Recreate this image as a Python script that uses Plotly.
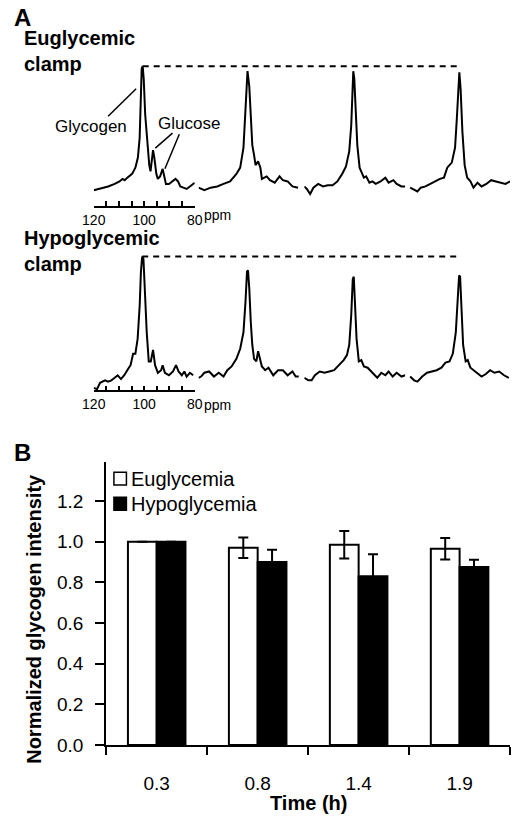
import plotly.graph_objects as go

# ---------------- panel A: spectra (ppm, intensity relative to first glycogen peak)
eu1_ppm = [120, 118.1, 116.2, 114.3, 111.7, 109.8, 108.6, 107.7, 106.7, 104.8, 103.5, 102.5, 101.8, 101.3,
           101.0, 100.6, 100.2, 99.6, 98.8, 98.0, 97.5, 97.0, 96.5, 96.0, 95.2, 94.6, 93.7, 92.7, 92.2,
           91.4, 90.2, 88.9, 87.6, 86.6, 85.7, 84.5, 83.2, 81.9, 80.6, 80]
eu1_int = [0.01, 0.02, 0.03, 0.04, 0.06, 0.08, 0.10, 0.09, 0.11, 0.14, 0.19, 0.27, 0.43, 0.74,
           0.98, 1.0, 0.90, 0.61, 0.37, 0.21, 0.16, 0.24, 0.33, 0.27, 0.14, 0.10, 0.12, 0.18, 0.14,
           0.06, 0.06, 0.08, 0.10, 0.08, 0.04, 0.03, 0.02, 0.04, 0.06, 0.07]

eu2_ppm = [120, 117.7, 115.2, 112.6, 110.1, 107.5, 105.0, 103.5, 102.2, 101.2, 100.6, 99.9, 99.3, 98.7,
           98.0, 97.4, 96.4, 95.5, 94.9, 93.0, 91.7, 89.8, 87.9, 86.6, 84.7, 82.8, 80.6]
eu2_int = [0.03, 0.01, 0.03, 0.04, 0.06, 0.08, 0.14, 0.19, 0.35, 0.74, 0.96, 0.84, 0.53, 0.37,
           0.29, 0.21, 0.24, 0.19, 0.10, 0.12, 0.09, 0.07, 0.12, 0.09, 0.08, 0.04, 0.03]

eu3_ppm = [120, 119.0, 117.7, 116.4, 114.5, 112.6, 110.7, 108.8, 106.9, 105.0, 103.5, 102.2, 101.4, 100.9,
           100.6, 100.2, 99.7, 99.0, 98.1, 97.1, 96.4, 95.5, 94.2, 93.0, 91.7, 89.8, 87.9, 86.6,
           84.7, 83.4, 81.5, 80]
eu3_int = [0.04, 0.02, -0.02, 0.03, 0.06, 0.04, 0.05, 0.05, 0.08, 0.14, 0.20, 0.32, 0.53, 0.79,
           0.96, 0.90, 0.61, 0.37, 0.19, 0.15, 0.11, 0.12, 0.07, 0.08, 0.06, 0.08, 0.11, 0.07,
           0.09, 0.06, 0.04, 0.04]

eu4_ppm = [119.6, 118.0, 116.7, 115.4, 113.5, 111.6, 109.7, 107.8, 106.2, 104.9, 103.1, 101.8, 101.1,
           100.5, 100.1, 99.6, 98.9, 98.0, 97.0, 95.7, 94.5, 92.9, 91.3, 89.4, 87.5, 85.6, 83.7, 81.8, 80]
eu4_int = [0.03, 0.01, 0.00, 0.03, 0.04, 0.06, 0.08, 0.10, 0.11, 0.19, 0.23, 0.35, 0.58,
           0.87, 0.95, 0.82, 0.48, 0.21, 0.11, 0.08, 0.03, 0.07, 0.04, 0.06, 0.09, 0.08, 0.07, 0.06, 0.08]

hy1_ppm = [120, 118.7, 117.5, 115.5, 114.3, 113.0, 111.7, 110.5, 109.2, 107.9, 106.7, 105.4, 104.4,
           103.5, 102.6, 101.8, 101.3, 100.8, 100.3, 99.8, 99.0, 98.2, 97.4, 96.5, 95.7, 94.6, 93.3,
           92.7, 91.8, 90.2, 88.6, 87.4, 86.4, 85.1, 84.1, 83.2, 81.9, 80.6]
hy1_int = [-0.04, -0.05, 0.00, 0.02, 0.01, 0.02, 0.04, 0.06, 0.03, 0.06, 0.10, 0.14, 0.23,
           0.23, 0.35, 0.61, 0.88, 1.0, 0.98, 0.75, 0.40, 0.17, 0.17, 0.26, 0.14, 0.08, 0.10,
           0.14, 0.08, 0.06, 0.09, 0.14, 0.09, 0.06, 0.09, 0.05, 0.08, 0.06]

hy2_ppm = [120, 119.0, 117.7, 115.8, 113.9, 112.0, 110.1, 108.6, 106.9, 105.0, 103.5, 102.2, 101.4,
           100.8, 100.4, 99.9, 99.3, 98.7, 98.0, 97.1, 96.4, 95.5, 94.9, 93.6, 92.3, 90.4, 88.5,
           86.6, 84.7, 82.8, 81.5, 80.3]
hy2_int = [0.04, 0.05, 0.08, 0.09, 0.05, 0.08, 0.05, 0.10, 0.13, 0.19, 0.27, 0.40, 0.64,
           0.88, 0.89, 0.75, 0.48, 0.30, 0.19, 0.17, 0.25, 0.19, 0.13, 0.10, 0.12, 0.06, 0.10,
           0.10, 0.06, 0.09, 0.05, 0.05]

hy3_ppm = [120, 118.4, 117.1, 115.8, 113.9, 112.0, 110.1, 108.2, 106.3, 104.4, 103.1, 102.2, 101.4,
           100.8, 100.4, 99.9, 99.3, 98.4, 97.4, 96.4, 94.9, 93.0, 91.1, 89.5, 87.9, 86.6, 85.0,
           83.4, 81.5, 80]
hy3_int = [0.04, 0.02, 0.02, 0.06, 0.09, 0.08, 0.09, 0.10, 0.14, 0.18, 0.22, 0.30, 0.54,
           0.82, 0.84, 0.64, 0.35, 0.17, 0.18, 0.13, 0.12, 0.08, 0.04, 0.08, 0.06, 0.09, 0.05,
           0.08, 0.05, 0.06]

hy4_ppm = [119.6, 118.0, 116.7, 114.8, 112.9, 111.0, 109.1, 107.2, 105.6, 104.0, 102.7, 101.5, 100.8,
           100.2, 99.8, 99.3, 98.6, 97.6, 96.8, 95.7, 94.5, 92.9, 91.3, 89.6, 87.9, 86.2, 84.3,
           82.4, 80.5]
hy4_int = [0.05, 0.02, 0.01, 0.05, 0.08, 0.09, 0.10, 0.12, 0.16, 0.17, 0.23, 0.40, 0.67,
           0.85, 0.84, 0.61, 0.30, 0.17, 0.18, 0.12, 0.10, 0.08, 0.05, 0.07, 0.10, 0.08, 0.09,
           0.06, 0.04]

ppm_ticks = [120, 115, 110, 105, 100, 95, 90, 85, 80]
ppm_labels = ["120", "", "", "", "100", "", "", "", "80"]

# ---------------- panel B: bar chart
times = ["0.3", "0.8", "1.4", "1.9"]
eugly = [1.0, 0.97, 0.985, 0.965]
eugly_err = [0, 0.05, 0.068, 0.053]
hypo = [1.0, 0.90, 0.83, 0.875]
hypo_err = [0, 0.06, 0.108, 0.036]

W, H = 520, 828
FONT = "Arial, Liberation Sans, sans-serif"


def px(x):
    return x / W


def py(y):
    return 1 - y / H


# horizontal pixel slots of the four spectra in each row
slots = [(85, 190), (194, 299), (304, 409), (413, 518)]

fig = go.Figure()

rows = [
    ([(eu1_ppm, eu1_int), (eu2_ppm, eu2_int), (eu3_ppm, eu3_int), (eu4_ppm, eu4_int)], "y2", 2),
    ([(hy1_ppm, hy1_int), (hy2_ppm, hy2_int), (hy3_ppm, hy3_int), (hy4_ppm, hy4_int)], "y3", 6),
]
for spectra, yname, first in rows:
    for i, (ppm, inten) in enumerate(spectra):
        fig.add_trace(go.Scatter(
            x=ppm, y=inten, mode="lines",
            line=dict(color="black", width=2),
            xaxis="x%d" % (first + i), yaxis=yname,
            showlegend=False, hoverinfo="skip",
        ))

fig.add_trace(go.Bar(
    x=list(range(len(times))), y=eugly, name="Euglycemia", showlegend=False,
    marker=dict(color="white", line=dict(color="black", width=2)),
    error_y=dict(type="data", array=eugly_err, color="black", thickness=2, width=5),
))
fig.add_trace(go.Bar(
    x=list(range(len(times))), y=hypo, name="Hypoglycemia", showlegend=False,
    marker=dict(color="black", line=dict(color="black", width=2)),
    error_y=dict(type="data", array=hypo_err, color="black", thickness=2, width=5),
))

layout = dict(
    width=W, height=H,
    margin=dict(l=0, r=0, t=0, b=0),
    paper_bgcolor="white", plot_bgcolor="white",
    font=dict(family=FONT, color="black", size=19),
    barmode="group", bargap=0.43, bargroupgap=0,
    xaxis=dict(domain=[px(98), px(518)], range=[-0.5, 3.5], anchor="y",
               showline=True, linecolor="black", linewidth=2, showgrid=False, zeroline=False,
               tickvals=list(range(len(times))), ticktext=times, ticks="",
               ticklabelstandoff=20,
               minor=dict(tickvals=[-0.5, 0.5, 1.5, 2.5, 3.5], ticks="outside", ticklen=8,
                          tickwidth=2, tickcolor="black", showgrid=False)),
    yaxis=dict(domain=[py(755), py(468)], range=[0, 1.393], anchor="x",
               showline=True, linecolor="black", linewidth=2, showgrid=False, zeroline=False,
               tickvals=[0, 0.2, 0.4, 0.6, 0.8, 1.0, 1.2], tickformat=".1f",
               ticks="outside", ticklen=9, tickwidth=2, tickcolor="black",
               ticklabelstandoff=8),
    yaxis2=dict(domain=[py(209), py(64)], range=[-0.118, 1.024], anchor="x2", visible=False),
    yaxis3=dict(domain=[py(395.7), py(257)], range=[-0.06, 1.023], anchor="x6", visible=False),
)
for k in range(8):
    n = 2 + k
    lo, hi = slots[k % 4]
    ax = dict(domain=[px(lo), px(hi)], range=[120, 80], anchor="y2" if k < 4 else "y3",
              showgrid=False, zeroline=False)
    if k % 4 == 0:
        ax.update(showline=True, linecolor="black", linewidth=1.5,
                  tickvals=ppm_ticks, ticktext=ppm_labels, ticks="inside", ticklen=5,
                  tickwidth=1.5, tickcolor="black", tickfont=dict(size=14))
    else:
        ax.update(visible=False)
    layout["xaxis%d" % n] = ax
fig.update_layout(**layout)


def ppm_to_paper(ppm, slot):
    lo, hi = slots[slot]
    return px(lo + (120 - ppm) / 40 * (hi - lo))


# dashed reference lines at the height of the first glycogen peak
for spectra, yname, _ in rows:
    first_ppm, first_int = spectra[0]
    last_ppm, last_int = spectra[3]
    top = max(first_int)
    fig.add_shape(type="line", xref="paper", yref=yname,
                  x0=ppm_to_paper(first_ppm[first_int.index(top)], 0),
                  x1=ppm_to_paper(last_ppm[last_int.index(max(last_int))], 3),
                  y0=top, y1=top, line=dict(color="black", width=2, dash="6px,5px"))

# peak labels
for x0, y0, x1, y1 in [(114.3, 0.60, 103.2, 0.82), (88.8, 0.465, 95.6, 0.346), (86.1, 0.457, 91.8, 0.181)]:
    fig.add_shape(type="line", xref="x2", yref="y2", x0=x0, y0=y0, x1=x1, y1=y1,
                  line=dict(color="black", width=1.5))

bold = dict(family=FONT, size=20, weight="bold")
letter = dict(family=FONT, size=24, weight="bold")
notes = [
    dict(text="A", x=px(0), y=py(18), font=letter),
    dict(text="Euglycemic<br>clamp", x=px(10), y=py(52), font=bold),
    dict(text="Hypoglycemic<br>clamp", x=px(10), y=py(254), font=bold),
    dict(text="B", x=px(0), y=py(459), font=letter),
]
for a in notes:
    fig.add_annotation(xref="paper", yref="paper", xanchor="left", yanchor="middle",
                       align="left", showarrow=False, **a)

centred = dict(xref="paper", yref="paper", xanchor="center", yanchor="middle", showarrow=False)
fig.add_annotation(text="Glycogen", x=px(82), y=py(128), font=dict(size=17), **centred)
fig.add_annotation(text="Glucose", x=px(184), y=py(125), font=dict(size=17), **centred)
for ylab in (218, 410):
    fig.add_annotation(text="ppm", xref="x2", yref="paper", x=80, xshift=7, y=py(ylab),
                       xanchor="left", yanchor="middle", showarrow=False, font=dict(size=14))

fig.add_annotation(text="Normalized glycogen intensity", x=px(23), y=py(627), textangle=-90,
                   font=dict(family=FONT, size=20, weight="bold"), **centred)
fig.add_annotation(text="Time (h)", x=px(308), y=py(814),
                   font=dict(family=FONT, size=20, weight="bold"), **centred)

# legend keys (drawn by hand to match the tight key/label spacing)
for name, fill, yc in [("Euglycemia", "white", 485), ("Hypoglycemia", "black", 510.5)]:
    fig.add_shape(type="rect", xref="paper", yref="paper",
                  x0=px(106), x1=px(119), y0=py(yc - 6.5), y1=py(yc + 6.5),
                  fillcolor=fill, line=dict(color="black", width=1.5))
    fig.add_annotation(text=name, x=px(122), y=py(yc), xref="paper", yref="paper",
                       xanchor="left", yanchor="middle", showarrow=False, font=dict(size=20))

fig.write_html("out.html", config={"displayModeBar": False},
               post_script="document.body.style.margin='0';")
